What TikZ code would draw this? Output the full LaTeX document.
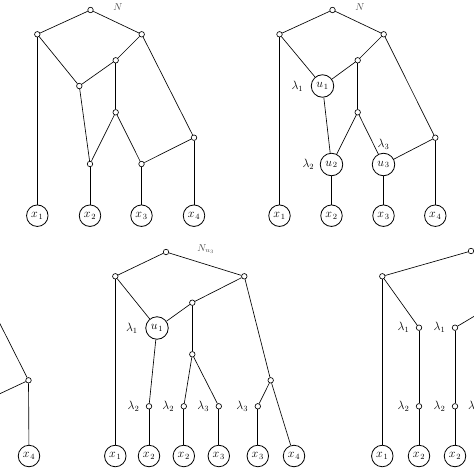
\documentclass[tikz,border=0pt]{standalone}
\usepackage{amsmath, amssymb}
\usepackage{tikz}
\usetikzlibrary{calc}

\newcommand{\xl}[1]{$x_{\mkern2mu #1}$}
\newcommand{\ul}[1]{$u_{\mkern2mu #1}$}

\begin{document}
\begin{tikzpicture}[x=1pt, y=-1pt, line width=0.65pt,
		vtx/.style={circle, draw, fill=white, inner sep=0pt, minimum size=5.5pt},
		leaf/.style={circle, draw, line width=0.8pt, inner sep=0pt, minimum size=21.5pt, font=\fontsize{12}{12}\selectfont},
		unode/.style={circle, draw, line width=0.8pt, inner sep=0pt, minimum size=22.5pt, font=\fontsize{12}{12}\selectfont},
		lam/.style={font=\fontsize{12}{12}\selectfont, label distance=3pt},
		netname/.style={font=\fontsize{10}{10}\selectfont, text=black!70}]
		
		\useasboundingbox (0,0) rectangle (474,474);
		\clip (0,0) rectangle (474,474);
		
		% network N
		\node [vtx] (r1) at (90.5,10) {};
		\node [netname] (n1) at (118,7) {$N$};
		\node [vtx] (a1) at (37.3,34.3) {};
		\node [vtx] (b1) at (141.7,34.3) {};
		\node [vtx] (c1) at (115.7,60.3) {};
		\node [vtx] (d1) at (79.3,86) {};
		\node [vtx] (e1) at (115.7,112.3) {};
		\node [vtx] (f1) at (194,137.7) {};
		\node [vtx] (g1) at (90,164) {};
		\node [vtx] (h1) at (141.5,164) {};
		\node [leaf] (x11) at (37.3,215.7) {\xl{1}};
		\node [leaf] (x12) at (90,215.7) {\xl{2}};
		\node [leaf] (x13) at (141.5,215.7) {\xl{3}};
		\node [leaf] (x14) at (194,215.7) {\xl{4}};
		
		\draw (r1) -- (a1);
		\draw (r1) -- (b1);
		\draw (a1) -- (x11);
		\draw (a1) -- (d1);
		\draw (b1) -- (c1);
		\draw (b1) -- (f1);
		\draw (c1) -- (d1);
		\draw (c1) -- (e1);
		\draw (d1) -- (g1);
		\draw (e1) -- (g1);
		\draw (e1) -- (h1);
		\draw (f1) -- (h1);
		\draw (f1) -- (x14);
		\draw (g1) -- (x12);
		\draw (h1) -- (x13);
		
		% network N with the nodes u_i
		\node [vtx] (r2) at (332.5,10) {};
		\node [netname] (n2) at (360,7) {$N$};
		\node [vtx] (a2) at (279.5,34.3) {};
		\node [vtx] (b2) at (383.7,34.3) {};
		\node [vtx] (c2) at (357.7,60.3) {};
		\node [unode, label={[lam, label distance=4pt]left:$\lambda_1$}] (u21) at (322.5,86) {\ul{1}};
		\node [vtx] (e2) at (357.7,112.3) {};
		\node [vtx] (f2) at (435.3,137.7) {};
		\node [unode, label={[lam, label distance=2pt]left:$\lambda_2$}] (u22) at (331.5,164.5) {\ul{2}};
		\node [unode, label={[lam, label distance=0pt]above:$\lambda_3$}] (u23) at (383.5,164.5) {\ul{3}};
		\node [leaf] (x21) at (279.5,215.7) {\xl{1}};
		\node [leaf] (x22) at (331.5,215.7) {\xl{2}};
		\node [leaf] (x23) at (383.5,215.7) {\xl{3}};
		\node [leaf] (x24) at (435.3,215.7) {\xl{4}};
		
		\draw (r2) -- (a2);
		\draw (r2) -- (b2);
		\draw (a2) -- (x21);
		\draw (a2) -- (u21);
		\draw (b2) -- (c2);
		\draw (b2) -- (f2);
		\draw (c2) -- (u21);
		\draw (c2) -- (e2);
		\draw (u21) -- (u22);
		\draw (e2) -- (u22);
		\draw (e2) -- (u23);
		\draw (f2) -- (u23);
		\draw (f2) -- (x24);
		\draw (u22) -- (x22);
		\draw (u23) -- (x23);
		
		% cut off on the left
		\coordinate (b3) at (-24,276.3);
		\coordinate (h3) at (-27,406.3);
		\node [vtx] (f3) at (28.5,380.3) {};
		\node [leaf] (x34) at (29,456) {\xl{4}};
		
		\draw (b3) -- (f3);
		\draw (h3) -- (f3);
		\draw (f3) -- (x34);
		
		% network N_{u_3}
		\node [vtx] (r4) at (166,252) {};
		\node [netname] (n4) at (206,249) {$N_{u_3}$};
		\node [vtx] (a4) at (115.3,276.3) {};
		\node [vtx] (b4) at (244.3,276.3) {};
		\node [vtx] (c4) at (192.3,302.7) {};
		\node [unode, label={[lam, label distance=4pt]left:$\lambda_1$}] (u41) at (157,328) {\ul{1}};
		\node [vtx] (e4) at (192.3,354.3) {};
		\node [vtx] (f4) at (270.7,380.3) {};
		\node [vtx, label={[lam]left:$\lambda_2$}] (p41) at (149,406.3) {};
		\node [vtx, label={[lam]left:$\lambda_2$}] (p42) at (183.8,406.3) {};
		\node [vtx, label={[lam]left:$\lambda_3$}] (p43) at (218.8,406.3) {};
		\node [vtx, label={[lam]left:$\lambda_3$}] (p44) at (257.8,406.3) {};
		\node [leaf] (x41) at (115.3,456) {\xl{1}};
		\node [leaf] (x42) at (149,456) {\xl{2}};
		\node [leaf] (x43) at (183.8,456) {\xl{2}};
		\node [leaf] (x44) at (218.8,456) {\xl{3}};
		\node [leaf] (x45) at (257.8,456) {\xl{3}};
		\node [leaf] (x46) at (294,456) {\xl{4}};
		
		\draw (r4) -- (a4);
		\draw (r4) -- (b4);
		\draw (a4) -- (x41);
		\draw (a4) -- (u41);
		\draw (b4) -- (c4);
		\draw (b4) -- (f4);
		\draw (c4) -- (u41);
		\draw (c4) -- (e4);
		\draw (u41) -- (p41);
		\draw (e4) -- (p42);
		\draw (e4) -- (p43);
		\draw (f4) -- (p44);
		\draw (f4) -- (x46);
		\draw (p41) -- (x42);
		\draw (p42) -- (x43);
		\draw (p43) -- (x44);
		\draw (p44) -- (x45);
		
		% cut off on the right
		\node [vtx] (r5) at (471,251) {};
		\coordinate (c5) at (498,302);
		\node [vtx] (a5) at (382.3,276.3) {};
		\node [vtx, label={[lam]left:$\lambda_1$}] (q51) at (419,327.7) {};
		\node [vtx, label={[lam]left:$\lambda_1$}] (q52) at (455,327.7) {};
		\node [vtx, label={[lam]left:$\lambda_2$}] (q53) at (419,406.3) {};
		\node [vtx, label={[lam]left:$\lambda_2$}] (q54) at (455,406.3) {};
		\node [lam] (l55) at (474,406.3) {$\lambda_2$};
		\node [leaf] (x51) at (382.3,456) {\xl{1}};
		\node [leaf] (x52) at (419,456) {\xl{2}};
		\node [leaf] (x53) at (455,456) {\xl{2}};
		
		\draw (r5) -- (a5);
		\draw (a5) -- (x51);
		\draw (a5) -- (q51);
		\draw (c5) -- (q52);
		\draw (q51) -- (q53);
		\draw (q52) -- (q54);
		\draw (q53) -- (x52);
		\draw (q54) -- (x53);
	\end{tikzpicture}
\end{document}
